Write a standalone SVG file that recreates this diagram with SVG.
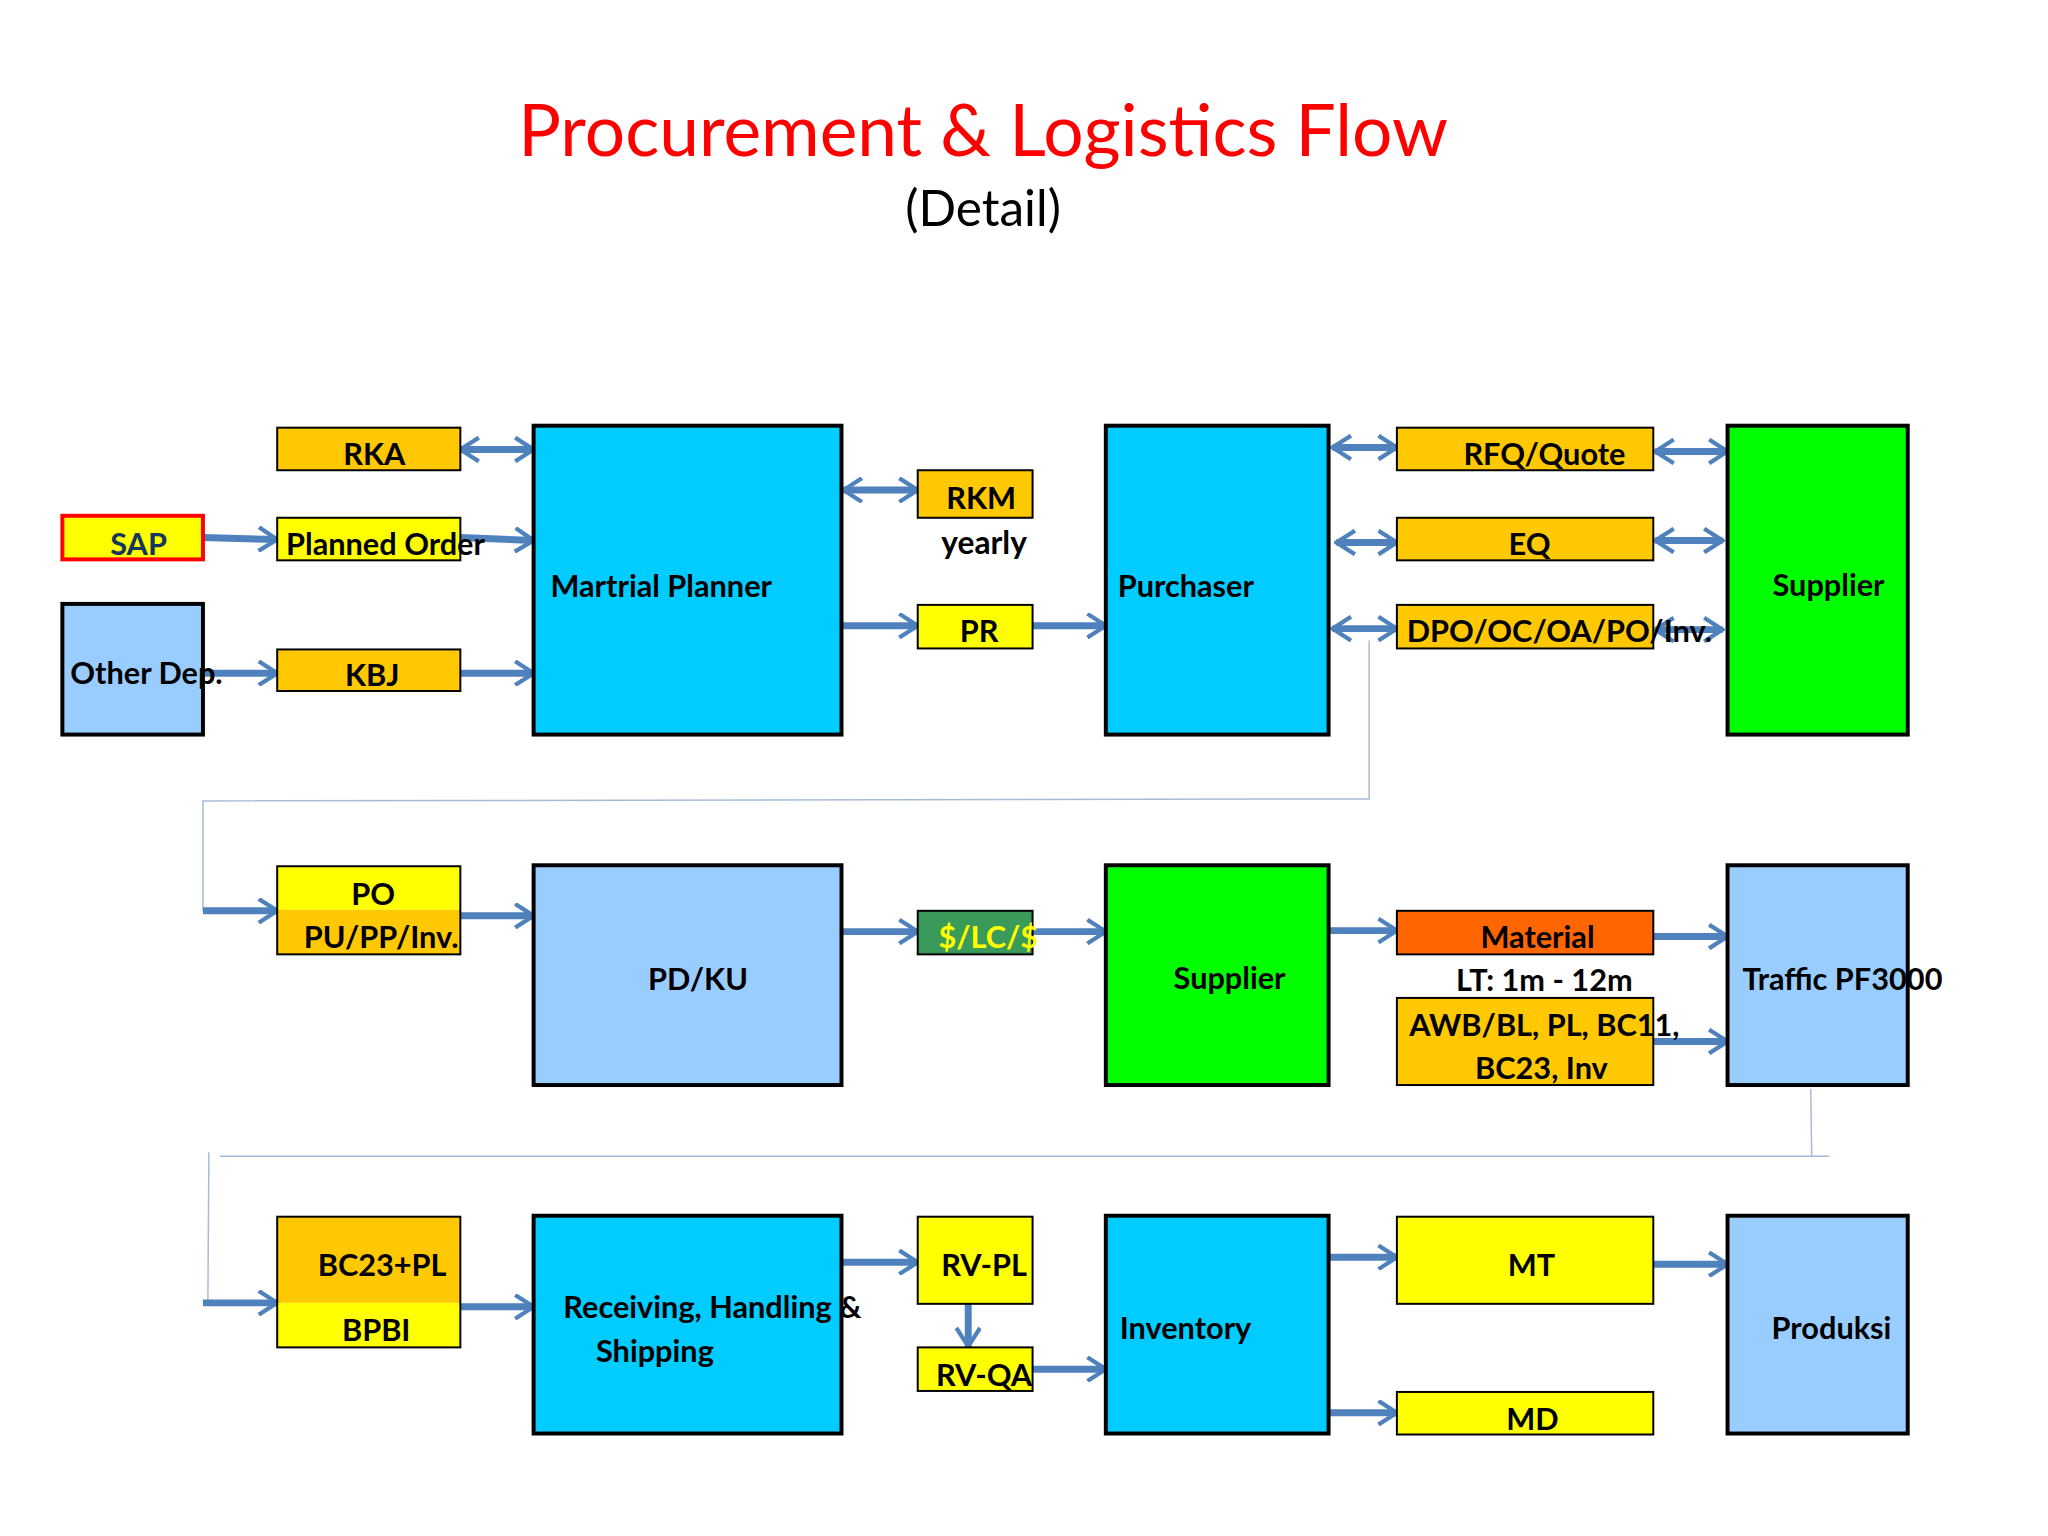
<svg xmlns="http://www.w3.org/2000/svg" width="2048" height="1536" viewBox="0 0 2048 1536">
<style>
.b{stroke:#000;stroke-width:4}
.s{stroke:#000;stroke-width:2}
text{font-family:Lato,"Liberation Sans",sans-serif;font-weight:bold;font-size:31px;fill:#000;text-anchor:middle}
.c line,.c polyline{stroke:#4f81bd;stroke-width:7;fill:none}
.c .t{stroke:#a6bcd6;stroke-width:1.5}
</style>
<defs>
<marker id="a" viewBox="0 0 10 10" refX="9" refY="5" markerWidth="3.8" markerHeight="3.8" orient="auto-start-reverse" markerUnits="strokeWidth">
<path d="M2,0.5 L9,5 L2,9.5" fill="none" stroke="#4f81bd" stroke-width="1.6"/>
</marker>
</defs>
<rect width="2048" height="1536" fill="#fff"/>
<g transform="scale(0.99)">
<text x="993" y="158" style="font-size:72px;font-weight:normal;fill:#f00">Procurement &amp; Logistics Flow</text>
<text x="993" y="228" style="font-size:50px;font-weight:normal">(Detail)</text>

<g class="c">
<line x1="465" y1="454" x2="539" y2="454" marker-start="url(#a)" marker-end="url(#a)"/>
<line x1="205" y1="543" x2="280" y2="545" marker-end="url(#a)"/>
<line x1="465" y1="543" x2="539" y2="546" marker-end="url(#a)"/>
<line x1="205" y1="680" x2="280" y2="680" marker-end="url(#a)"/>
<line x1="465" y1="680" x2="539" y2="680" marker-end="url(#a)"/>
<line x1="852" y1="495" x2="927" y2="495" marker-start="url(#a)" marker-end="url(#a)"/>
<line x1="850" y1="632" x2="927" y2="632" marker-end="url(#a)"/>
<line x1="1043" y1="632" x2="1117" y2="632" marker-end="url(#a)"/>
<line x1="1346" y1="452" x2="1411" y2="452" marker-start="url(#a)" marker-end="url(#a)"/>
<line x1="1672" y1="456" x2="1745" y2="456" marker-start="url(#a)" marker-end="url(#a)"/>
<line x1="1350" y1="548" x2="1411" y2="548" marker-start="url(#a)" marker-end="url(#a)"/>
<line x1="1672" y1="546" x2="1740" y2="546" marker-start="url(#a)" marker-end="url(#a)"/>
<line x1="1346" y1="635" x2="1411" y2="635" marker-start="url(#a)" marker-end="url(#a)"/>
<line x1="1672" y1="636" x2="1740" y2="636" marker-start="url(#a)" marker-end="url(#a)"/>
<polyline class="t" points="1383,647 1383,807 205,809 205,920"/>
<line x1="205" y1="920" x2="280" y2="920" marker-end="url(#a)"/>
<line x1="465" y1="925" x2="539" y2="925" marker-end="url(#a)"/>
<line x1="850" y1="941" x2="927" y2="941" marker-end="url(#a)"/>
<line x1="1043" y1="941" x2="1117" y2="941" marker-end="url(#a)"/>
<line x1="1342" y1="940" x2="1411" y2="940" marker-end="url(#a)"/>
<line x1="1670" y1="946" x2="1745" y2="946" marker-end="url(#a)"/>
<line x1="1670" y1="1052" x2="1745" y2="1052" marker-end="url(#a)"/>
<polyline class="t" points="1829,1100 1830,1168"/>
<polyline class="t" points="222,1168 1848,1168"/>
<polyline class="t" points="211,1164 210,1313"/>
<line x1="205" y1="1316" x2="280" y2="1316" marker-end="url(#a)"/>
<line x1="465" y1="1320" x2="539" y2="1320" marker-end="url(#a)"/>
<line x1="850" y1="1275" x2="927" y2="1275" marker-end="url(#a)"/>
<line x1="978" y1="1317" x2="978" y2="1360" marker-end="url(#a)"/>
<line x1="1043" y1="1383" x2="1117" y2="1383" marker-end="url(#a)"/>
<line x1="1342" y1="1270" x2="1411" y2="1270" marker-end="url(#a)"/>
<line x1="1342" y1="1427" x2="1411" y2="1427" marker-end="url(#a)"/>
<line x1="1670" y1="1277" x2="1745" y2="1277" marker-end="url(#a)"/>
</g>

<g id="rka"><rect x="280" y="432" width="185" height="43" fill="#ffc800" class="s"/><text x="378" y="470">RKA</text></g>
<g id="sap"><rect x="63" y="521" width="142" height="44" fill="#ff0" stroke="#f00" stroke-width="4"/><text x="140" y="561" style="fill:#17365d">SAP</text></g>
<g id="planned"><rect x="280" y="523" width="185" height="43" fill="#ff0" class="s"/><text x="289" y="561" style="text-anchor:start">Planned Order</text></g>
<g id="otherdep"><rect x="63" y="610" width="142" height="132" fill="#99ccff" class="b"/><text x="71" y="691" style="text-anchor:start">Other Dep.</text></g>
<g id="kbj"><rect x="280" y="656" width="185" height="42" fill="#ffc800" class="s"/><text x="376" y="693">KBJ</text></g>
<g id="mp"><rect x="539" y="430" width="311" height="312" fill="#00ccff" class="b"/><text x="556" y="603" style="text-anchor:start">Martrial Planner</text></g>
<g id="rkm"><rect x="927" y="475" width="116" height="48" fill="#ffc800" class="s"/><text x="991" y="514">RKM</text></g>
<text x="994" y="560" style="font-size:32px">yearly</text>
<g id="pr"><rect x="927" y="611" width="116" height="44" fill="#ff0" class="s"/><text x="989" y="649">PR</text></g>
<g id="purchaser"><rect x="1117" y="430" width="225" height="312" fill="#00ccff" class="b"/><text x="1129" y="603" style="text-anchor:start">Purchaser</text></g>
<g id="rfq"><rect x="1411" y="432" width="259" height="43" fill="#ffc800" class="s"/><text x="1560" y="470">RFQ/Quote</text></g>
<g id="eq"><rect x="1411" y="523" width="259" height="43" fill="#ffc800" class="s"/><text x="1545" y="561">EQ</text></g>
<g id="dpo"><rect x="1411" y="611" width="259" height="44" fill="#ffc800" class="s"/><text x="1421" y="649" style="text-anchor:start">DPO/OC/OA/PO/Inv.</text></g>
<g id="supplier1"><rect x="1745" y="430" width="182" height="312" fill="#00ff00" class="b"/><text x="1847" y="602">Supplier</text></g>

<g id="po"><rect x="280" y="875" width="185" height="44" fill="#ff0"/><rect x="280" y="919" width="185" height="45" fill="#ffc800"/><rect x="280" y="875" width="185" height="89" fill="none" class="s"/><text x="377" y="914">PO</text><text x="385" y="958">PU/PP/Inv.</text></g>
<g id="pdku"><rect x="539" y="874" width="311" height="222" fill="#99ccff" class="b"/><text x="705" y="1000">PD/KU</text></g>
<g id="lc"><rect x="927" y="920" width="116" height="44" fill="#3a9a5a" class="s"/><text x="948" y="958" style="text-anchor:start;fill:#ff0">$/LC/$</text></g>
<g id="supplier2"><rect x="1117" y="874" width="225" height="222" fill="#00ff00" class="b"/><text x="1242" y="999">Supplier</text></g>
<g id="material"><rect x="1411" y="920" width="259" height="44" fill="#ff6600" class="s"/><text x="1553" y="958">Material</text></g>
<text x="1560" y="1001">LT: 1m - 12m</text>
<g id="awb"><rect x="1411" y="1008" width="259" height="88" fill="#ffc800" class="s"/><text x="1560" y="1046">AWB/BL, PL, BC11,</text><text x="1557" y="1090">BC23, Inv</text></g>
<g id="traffic"><rect x="1745" y="874" width="182" height="222" fill="#99ccff" class="b"/><text x="1760" y="1000" style="text-anchor:start">Traffic PF3000</text></g>

<g id="bc23"><rect x="280" y="1229" width="185" height="87" fill="#ffc800"/><rect x="280" y="1316" width="185" height="45" fill="#ff0"/><rect x="280" y="1229" width="185" height="132" fill="none" class="s"/><text x="386" y="1289">BC23+PL</text><text x="380" y="1355">BPBI</text></g>
<g id="receiving"><rect x="539" y="1228" width="311" height="220" fill="#00ccff" class="b"/><text x="569" y="1331" style="text-anchor:start">Receiving, Handling &amp;</text><text x="602" y="1376" style="text-anchor:start">Shipping</text></g>
<g id="rvpl"><rect x="927" y="1229" width="116" height="88" fill="#ff0" class="s"/><text x="994" y="1289">RV-PL</text></g>
<g id="rvqa"><rect x="927" y="1361" width="116" height="44" fill="#ff0" class="s"/><text x="994" y="1400">RV-QA</text></g>
<g id="inventory"><rect x="1117" y="1228" width="225" height="220" fill="#00ccff" class="b"/><text x="1131" y="1353" style="text-anchor:start">Inventory</text></g>
<g id="mt"><rect x="1411" y="1229" width="259" height="88" fill="#ff0" class="s"/><text x="1547" y="1289">MT</text></g>
<g id="md"><rect x="1411" y="1406" width="259" height="43" fill="#ff0" class="s"/><text x="1548" y="1444">MD</text></g>
<g id="produksi"><rect x="1745" y="1228" width="182" height="220" fill="#99ccff" class="b"/><text x="1850" y="1353">Produksi</text></g>
</g>
</svg>
